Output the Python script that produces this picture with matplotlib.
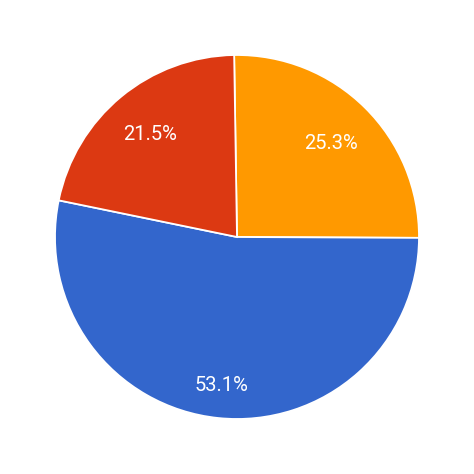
import matplotlib
matplotlib.use("Agg")
import matplotlib.pyplot as plt
import numpy as np

labels = ["Orange", "Blue", "Red"]
values = [25.3, 53.1, 21.5]
pct_labels = ["25.3%", "53.1%", "21.5%"]
colors = ["#FF9900", "#3366CC", "#DC3912"]
label_dist = [0.735, 0.815, 0.745]

plt.rcParams['font.family'] = ['Roboto', 'DejaVu Sans']

fig = plt.figure(figsize=(4.74, 4.74), dpi=100)
ax = fig.add_axes([0, 0, 1, 1])
wedges, texts = ax.pie(
    values, colors=colors, startangle=90.9, counterclock=False, radius=1,
    wedgeprops=dict(edgecolor="white", linewidth=1.3))
for w, lab, d in zip(wedges, pct_labels, label_dist):
    ang = np.deg2rad((w.theta1 + w.theta2) / 2)
    ax.text(d * np.cos(ang), d * np.sin(ang) - 0.008, lab, color="white",
            fontsize=14.5, ha="center", va="center")
s = 237 / 182
ax.set_xlim(-s, s)
ax.set_ylim(-s, s)
ax.set_aspect('equal')
ax.axis('off')
fig.savefig("out.png", dpi=100, facecolor="white")
